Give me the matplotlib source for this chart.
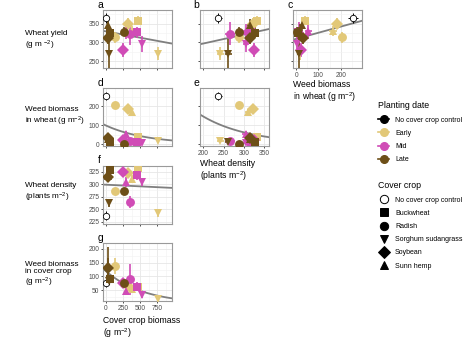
import numpy as np
import matplotlib
matplotlib.use("Agg")
import matplotlib.pyplot as plt
from matplotlib.lines import Line2D
from matplotlib.ticker import AutoMinorLocator

plt.rcParams["font.family"] = ["Liberation Sans", "DejaVu Sans"]
plt.rcParams["mathtext.fontset"] = "custom"
plt.rcParams["mathtext.rm"] = "Liberation Sans"
plt.rcParams["mathtext.it"] = "Liberation Sans:italic"

# legend categories
dates = ["No cover crop control", "Early", "Mid", "Late"]
date_colors = ["black", "#E2C878", "#D04CB6", "#6D4F18"]
crops = ["No cover crop control", "Buckwheat", "Radish", "Sorghum sudangrass", "Soybean", "Sunn hemp"]
crop_markers = ["o", "s", "o", "v", "D", "^"]

# one entry per treatment (control, then early / mid / late x 5 cover crops)
trt_date = ["No cover crop control"] + ["Early"] * 5 + ["Mid"] * 5 + ["Late"] * 5
trt_crop = ["No cover crop control"] + crops[1:] * 3

cover_biomass = [0, 470, 132, 770, 320, 378, 450, 353, 525, 255, 290, 60, 270, 45, 25, 35]
wheat_yield = [365, 357, 313, 270, 350, 330, 327, 323, 296, 280, 330, 326, 328, 270, 311, 345]
yield_se = [14, 12, 15, 18, 15, 14, 15, 30, 22, 18, 20, 15, 12, 40, 15, 18]
weed_wheat = [255, 40, 204, 17, 184, 167, 10, 15, 5, 20, 55, 10, 2, 12, 32, 25]
weed_wheat_se = [22, 10, 15, 8, 15, 18, 6, 8, 4, 8, 15, 6, 3, 8, 12, 10]
wheat_density = [237, 332, 287, 242, 322, 310, 318, 265, 305, 324, 305, 328, 287, 262, 314, 316]
density_se = [9, 8, 6, 8, 8, 8, 10, 12, 8, 6, 10, 8, 6, 8, 8, 8]
weed_cc = [75, 60, 137, 20, 67, 53, 63, 89, 32, 77, 48, 89, 75, 84, 131, 143]
weed_cc_se = [14, 12, 30, 6, 12, 10, 15, 55, 10, 15, 12, 12, 10, 15, 35, 65]

W, H = 474, 344
fig = plt.figure(figsize=(W / 100, H / 100), dpi=100)


def add_panel(x0, y0, w=69, h=58):
    return fig.add_axes([x0 / W, 1 - (y0 + h) / H, w / W, h / H])


def style(ax, xlim, ylim, xticks, yticks, show_x, show_y):
    ax.set_xlim(xlim)
    ax.set_ylim(ylim)
    ax.set_xticks(xticks)
    ax.set_yticks(yticks)
    ax.xaxis.set_minor_locator(AutoMinorLocator(2))
    ax.yaxis.set_minor_locator(AutoMinorLocator(2))
    ax.grid(True, which="major", color="#E6E6E6", lw=0.6)
    ax.grid(True, which="minor", color="#F2F2F2", lw=0.4)
    ax.set_axisbelow(True)
    for s in ax.spines.values():
        s.set_color("#9A9A9A")
        s.set_linewidth(0.8)
    ax.tick_params(which="major", length=1.6, width=0.6, color="#333333",
                   labelsize=4.8, labelcolor="#4D4D4D", pad=1.0)
    ax.tick_params(which="minor", length=0)
    if not show_x:
        ax.set_xticklabels([])
    if not show_y:
        ax.set_yticklabels([])


def draw_points(ax, x, y, yerr, xerr=None):
    for i in range(len(x)):
        color = date_colors[dates.index(trt_date[i])]
        marker = crop_markers[crops.index(trt_crop[i])]
        ctrl = trt_crop[i] == crops[0]
        xe = None if xerr is None else xerr[i]
        ax.errorbar(x[i], y[i], yerr=yerr[i], xerr=xe, fmt=marker, color=color,
                    mfc="white" if ctrl else color, mec=color,
                    ms=6.4 if not ctrl else 4.6, mew=0.6 if ctrl else 0,
                    elinewidth=1.2 if not ctrl else 0.7, capsize=0, zorder=3)


def fit_line(ax, x, y, loglink=False):
    x = np.asarray(x, float)
    y = np.asarray(y, float)
    xs = np.linspace(*ax.get_xlim(), 100)
    if loglink:
        X = np.column_stack([np.ones_like(x), x])
        beta = np.array([np.log(y.mean()), 0.0])
        for _ in range(100):
            mu = np.exp(X @ beta)
            z = X @ beta + (y - mu) / mu
            beta = np.linalg.solve(X.T @ (mu[:, None] * X), X.T @ (mu * z))
        ys = np.exp(beta[0] + beta[1] * xs)
    else:
        b = np.polyfit(x, y, 1)
        ys = np.polyval(b, xs)
    ax.plot(xs, ys, color="#7F7F7F", lw=1.3, zorder=2)


col_x = [103, 200, 293]
row_y = [10, 88, 166, 243]
lim_cover = (-44, 970)
lim_density = (192, 362)
lim_weed = (-14, 295)
tk_cover = [0, 250, 500, 750]
tk_density = [200, 250, 300, 350]
tk_weed = [0, 100, 200]

# panel a
ax = add_panel(col_x[0], row_y[0])
style(ax, lim_cover, (232, 386), tk_cover, [250, 300, 350], False, True)
fit_line(ax, cover_biomass, wheat_yield)
draw_points(ax, cover_biomass, wheat_yield, yield_se)
# panel b
ax = add_panel(col_x[1], row_y[0])
style(ax, lim_density, (232, 386), tk_density, [250, 300, 350], False, False)
fit_line(ax, wheat_density, wheat_yield)
draw_points(ax, wheat_density, wheat_yield, yield_se, density_se)
# panel c
ax = add_panel(col_x[2], row_y[0])
style(ax, lim_weed, (232, 386), tk_weed, [250, 300, 350], True, False)
fit_line(ax, weed_wheat, wheat_yield)
draw_points(ax, weed_wheat, wheat_yield, yield_se, weed_wheat_se)
# panel d
ax = add_panel(col_x[0], row_y[1])
style(ax, lim_cover, (-10, 296), tk_cover, [0, 100, 200], False, True)
fit_line(ax, cover_biomass, weed_wheat, loglink=True)
draw_points(ax, cover_biomass, weed_wheat, weed_wheat_se)
# panel e
ax = add_panel(col_x[1], row_y[1])
style(ax, lim_density, (-10, 296), tk_density, [0, 100, 200], True, False)
fit_line(ax, wheat_density, weed_wheat, loglink=True)
draw_points(ax, wheat_density, weed_wheat, weed_wheat_se, density_se)
# panel f
ax = add_panel(col_x[0], row_y[2])
style(ax, lim_cover, (221, 336), tk_cover, [225, 250, 275, 300, 325], False, True)
fit_line(ax, cover_biomass, wheat_density)
draw_points(ax, cover_biomass, wheat_density, density_se)
# panel g
ax = add_panel(col_x[0], row_y[3])
style(ax, lim_cover, (11, 221), tk_cover, [50, 100, 150, 200], True, True)
fit_line(ax, cover_biomass, weed_cc, loglink=True)
draw_points(ax, cover_biomass, weed_cc, weed_cc_se)

# panel letters
for lab, px, py in [("a", 98, 8), ("b", 193, 8), ("c", 287, 8),
                    ("d", 98, 86), ("e", 193, 86), ("f", 98, 163), ("g", 98, 241)]:
    fig.text(px / W, 1 - py / H, lab, fontsize=7.5, va="baseline", ha="left")

# row labels
for lab, py in [("Wheat yield\n(g m $^{-2}$)", 41),
                ("Weed biomass\nin wheat (g m$^{-2}$)", 117),
                ("Wheat density\n(plants m$^{-2}$)", 193),
                ("Weed biomass\nin cover crop\n(g m$^{-2}$)", 275)]:
    fig.text(25 / W, 1 - py / H, lab, fontsize=5.9, va="center", ha="left", linespacing=1.1)

# x axis labels
for lab, px, py in [("Cover crop biomass\n(g m$^{-2}$)", 103, 316),
                    ("Wheat density\n(plants m$^{-2}$)", 200, 159),
                    ("Weed biomass\nin wheat (g m$^{-2}$)", 293, 80)]:
    fig.text(px / W, 1 - py / H, lab, fontsize=6.2, va="top", ha="left", linespacing=1.1)

# legends
h_dates = [Line2D([0], [0], marker="o", color=c, lw=1.2, ms=5.5) for c in date_colors]
h_crops = [Line2D([0], [0], marker=m, color="black", lw=0, ms=6,
                  mfc="white" if k == 0 else "black", mew=0.7)
           for k, m in enumerate(crop_markers)]
fig.legend(h_dates, dates, loc="upper left", bbox_to_anchor=(372 / W, 1 - 95 / H),
           frameon=False, fontsize=5, title="Planting date", title_fontsize=6.3,
           alignment="left", handlelength=1.6, handletextpad=0.8, labelspacing=0.9)
fig.legend(h_crops, crops, loc="upper left", bbox_to_anchor=(372 / W, 1 - 175 / H),
           frameon=False, fontsize=5, title="Cover crop", title_fontsize=6.3,
           alignment="left", handlelength=1.6, handletextpad=0.8, labelspacing=0.9)

fig.savefig("out.png", dpi=100)
